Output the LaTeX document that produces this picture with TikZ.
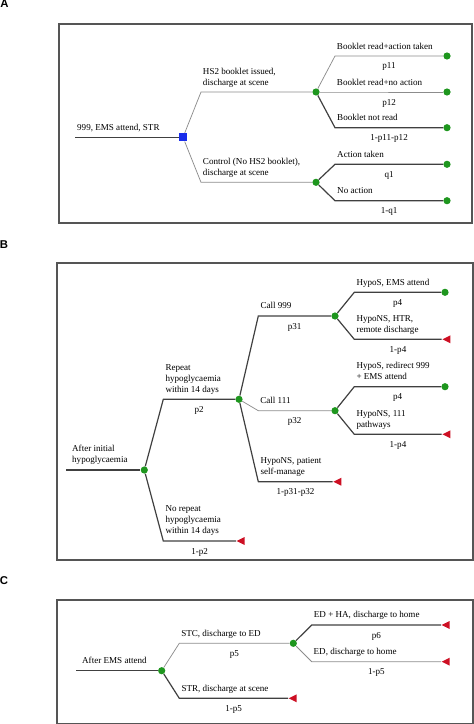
\documentclass[tikz,border=0pt]{standalone}
\usepackage{fontspec}
\setmainfont{Liberation Serif}
\newfontfamily\treefont{Liberation Serif}
\newfontfamily\panelfont{Liberation Sans}
\usepackage{tikz}
\usetikzlibrary{shapes.geometric}

\definecolor{chancegreen}{RGB}{30,150,30}
\definecolor{decblue}{RGB}{25,45,235}
\definecolor{termred}{RGB}{205,15,35}
\definecolor{framegray}{RGB}{85,85,85}

\tikzset{
	chance/.style={circle,fill=chancegreen,inner sep=0,minimum size=5.4pt},
	decision/.style={rectangle,fill=decblue,inner sep=0,minimum size=6pt},
	terminal/.style={isosceles triangle,isosceles triangle stretches,shape border rotate=180,fill=termred,inner sep=0,minimum width=6pt,minimum height=6pt,anchor=apex},
	strong/.style={draw=black!75,line width=0.9pt},
	weak/.style={draw=black!45,line width=0.55pt},
	lbl/.style={anchor=south west,inner sep=0,text depth=0pt,align=left,xshift=1.2pt,yshift=4.9pt,font=\treefont\fontsize{6.8}{8.3}\selectfont},
	prob/.style={anchor=base,inner sep=0,yshift=-9.75pt,font=\treefont\fontsize{6.8}{8.3}\selectfont},
	panel/.style={draw=framegray,line width=0.8pt},
	letter/.style={font=\panelfont\bfseries\fontsize{8.5}{8.5}\selectfont,inner sep=0}
}

\begin{document}
\begin{tikzpicture}[x=0.75pt,y=-0.75pt]
	\useasboundingbox (0,0) rectangle (474,724);
	% frames and panel letters
	\draw[panel] (59,24) rectangle (472,223);
	\draw[panel] (57,263) rectangle (473,560);
	\draw[panel] (57,600) rectangle (473,723.5);
	\node[letter] (lA) at (4.5,4) {A};
	\node[letter] (lB) at (4,244.5) {B};
	\node[letter] (lC) at (4,580.5) {C};

	% A
	\coordinate (a0) at (75,137.3);
	\node[decision] (dA) at (183,137.3) {};
	\coordinate (bHS) at (201,92);
	\node[chance] (cHS) at (316,92) {};
	\coordinate (bCT) at (201,182.3);
	\node[chance] (cCT) at (316,182.3) {};
	\coordinate (bA1) at (335,56);    \node[chance] (eA1) at (447,56) {};
	\coordinate (bA2) at (335,92);    \node[chance] (eA2) at (447,92) {};
	\coordinate (bA3) at (335,127.7); \node[chance] (eA3) at (447,127.7) {};
	\coordinate (bA4) at (335,164.3); \node[chance] (eA4) at (447,164.3) {};
	\coordinate (bA5) at (335,200.7); \node[chance] (eA5) at (447,200.7) {};
	\draw[strong] (a0) node[lbl]{999, EMS attend, STR} -- (dA);
	\draw[weak] (dA) -- (bHS) node[lbl]{HS2 booklet issued,\\discharge at scene} -- (cHS);
	\draw[weak] (dA) -- (bCT) node[lbl]{Control (No HS2 booklet),\\discharge at scene} -- (cCT);
	\draw[weak] (cHS) -- (bA1) node[lbl]{Booklet read+action taken} -- node[prob]{p11} (eA1);
	\draw[weak] (cHS) -- (bA2) node[lbl]{Booklet read+no action} -- node[prob]{p12} (eA2);
	\draw[strong] (cHS) -- (bA3) node[lbl]{Booklet not read} -- node[prob]{1-p11-p12} (eA3);
	\draw[strong] (cCT) -- (bA4) node[lbl]{Action taken} -- node[prob]{q1} (eA4);
	\draw[strong] (cCT) -- (bA5) node[lbl]{No action} -- node[prob]{1-q1} (eA5);

	% B
	\coordinate (b0) at (66,470);
	\node[chance] (cB0) at (144.3,470) {};
	\coordinate (bRep) at (163.3,399.3);
	\node[chance] (cRep) at (239,399.3) {};
	\coordinate (bNo) at (163.3,541);
	\node[terminal] (tNo) at (236,541) {};
	\coordinate (b999) at (258.3,316);
	\node[chance] (c999) at (335,316) {};
	\coordinate (b111) at (258.3,410.7);
	\node[chance] (c111) at (335,410.7) {};
	\coordinate (bSelf) at (258.3,481.7);
	\node[terminal] (tSelf) at (332.7,481.7) {};
	\coordinate (bB1) at (354.3,292.3); \node[chance] (eB1) at (445,292.3) {};
	\coordinate (bB2) at (354.3,339.3); \node[terminal] (tB2) at (441.7,339.3) {};
	\coordinate (bB3) at (354.3,386.7); \node[chance] (eB3) at (445,386.7) {};
	\coordinate (bB4) at (354.3,434.3); \node[terminal] (tB4) at (441.7,434.3) {};
	\draw[strong] (b0) node[lbl,xshift=3pt]{After initial\\hypoglycaemia} -- (cB0);
	\draw[strong] (cB0) -- (bRep) node[lbl]{Repeat\\hypoglycaemia\\within 14 days} -- node[prob]{p2} (cRep);
	\draw[strong] (cB0) -- (bNo) node[lbl]{No repeat\\hypoglycaemia\\within 14 days} -- node[prob]{1-p2} (tNo);
	\draw[strong] (cRep) -- (b999) node[lbl]{Call 999} -- node[prob]{p31} (c999);
	\draw[weak] (cRep) -- (b111) node[lbl]{Call 111} -- node[prob]{p32} (c111);
	\draw[strong] (cRep) -- (bSelf) node[lbl]{HypoNS, patient\\self-manage} -- node[prob]{1-p31-p32} (tSelf);
	\draw[strong] (c999) -- (bB1) node[lbl]{HypoS, EMS attend} -- node[prob]{p4} (eB1);
	\draw[strong] (c999) -- (bB2) node[lbl]{HypoNS, HTR,\\remote discharge} -- node[prob]{1-p4} (tB2);
	\draw[strong] (c111) -- (bB3) node[lbl]{HypoS, redirect 999\\+ EMS attend} -- node[prob]{p4} (eB3);
	\draw[strong] (c111) -- (bB4) node[lbl]{HypoNS, 111\\pathways} -- node[prob]{1-p4} (tB4);

	% C
	\coordinate (c0) at (76,670.7);
	\node[chance] (cC0) at (161.7,670.7) {};
	\coordinate (bSTC) at (179.3,643.3);
	\node[chance] (cSTC) at (293.3,643.3) {};
	\coordinate (bSTR) at (179.3,698.3);
	\node[terminal] (tSTR) at (288,698.3) {};
	\coordinate (bC1) at (311.7,625);   \node[terminal] (tC1) at (441,625) {};
	\coordinate (bC2) at (311.7,661.7); \node[terminal] (tC2) at (441,661.7) {};
	\draw[strong] (c0) node[lbl,xshift=3pt]{After EMS attend} -- (cC0);
	\draw[weak] (cC0) -- (bSTC) node[lbl]{STC, discharge to ED} -- node[prob]{p5} (cSTC);
	\draw[strong] (cC0) -- (bSTR) node[lbl]{STR, discharge at scene} -- node[prob]{1-p5} (tSTR);
	\draw[strong] (cSTC) -- (bC1) node[lbl]{ED + HA, discharge to home} -- node[prob]{p6} (tC1);
	\draw[weak] (cSTC) -- (bC2) node[lbl]{ED, discharge to home} -- node[prob]{1-p5} (tC2);
\end{tikzpicture}
\end{document}
